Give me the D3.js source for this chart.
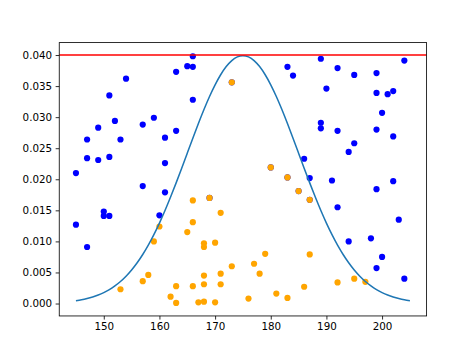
<!DOCTYPE html>
<html>
<head>
<meta charset="utf-8">
<script src="https://cdn.jsdelivr.net/npm/d3@7"></script>
<style>
html,body{margin:0;padding:0;background:#fff;}
svg{display:block;}
</style>
</head>
<body>
<script>
// Rejected samples (blue)
const blueX = [145,147,147,149,149,151,151,152,153,154,157,159,161,163,161,163,166,165,166,166,
  183,184,186,189,192,195,199,204,190,199,201,202,200,189,189,192,199,202,195,194,187,191,202,
  199,192,203,194,198,200,199,204,145,147,150,150,151,157,161,160,
  169,173,180,183,185,187];
const blueY = [0.0210,0.0264,0.0234,0.0283,0.0231,0.0335,0.0236,0.0294,0.0264,0.0362,0.0288,0.0299,0.0267,0.0278,0.0226,0.0373,0.0398,0.0382,0.0381,0.0328,
  0.0381,0.0367,0.0233,0.0394,0.0379,0.0368,0.0371,0.0391,0.0346,0.0339,0.0337,0.0342,0.0307,0.0291,0.0282,0.0278,0.0280,0.0269,0.0258,0.0244,0.0202,0.0198,0.0197,
  0.0184,0.0155,0.0135,0.0100,0.0105,0.0075,0.0057,0.0040,0.0127,0.0091,0.0148,0.0141,0.0141,0.0189,0.0179,0.0142,
  0.0170,0.0356,0.0219,0.0203,0.0181,0.0167];
// Accepted samples (orange)
const orangeX = [173,180,183,185,187,169,166,171,166,165,168,168,170,160,159,
  187,179,177,173,178,158,168,171,157,153,163,166,168,171,186,192,195,197,
  162,181,183,176,163,167,168,170];
const orangeY = [0.0356,0.0219,0.0203,0.0181,0.0167,0.0170,0.0166,0.0146,0.0131,0.0115,0.0097,0.0091,0.0098,0.0124,0.0100,
  0.0079,0.0080,0.0064,0.0060,0.0048,0.0046,0.0045,0.0048,0.0036,0.0023,0.0028,0.0028,0.0031,0.0031,0.0027,0.0034,0.0040,0.0035,
  0.0011,0.0016,0.0009,0.0008,0.0001,0.0002,0.0003,0.0002];
// Target density curve, values at x = 145..205
const curveX = d3.range(145, 206);
const curveY = [0.000443,0.000595,0.000792,0.001042,0.001358,0.001753,0.002239,0.002833,0.003547,0.004398,
  0.005399,0.006562,0.007895,0.009405,0.011092,0.012952,0.014973,0.017137,0.019419,0.021785,
  0.024197,0.026609,0.028969,0.031225,0.033322,0.035207,0.036827,0.038139,0.039104,0.039695,
  0.039894,
  0.039695,0.039104,0.038139,0.036827,0.035207,0.033322,0.031225,0.028969,0.026609,0.024197,
  0.021785,0.019419,0.017137,0.014973,0.012952,0.011092,0.009405,0.007895,0.006562,0.005399,
  0.004398,0.003547,0.002833,0.002239,0.001753,0.001358,0.001042,0.000792,0.000595,0.000443];
const envelope = 0.040;
const xTicks = [150,160,170,180,190,200];
const yTicks = [0,0.005,0.010,0.015,0.020,0.025,0.030,0.035,0.040];

const W = 474, H = 355;
const L = 59.25, R = 426.6, T = 42.6, B = 315.95;

const svg = d3.select("body").append("svg").attr("width", W).attr("height", H);
svg.append("rect").attr("width", W).attr("height", H).attr("fill", "#fff");

const x = d3.scaleLinear().domain([142, 208]).range([L, R]);
const y = d3.scaleLinear().domain([-0.002, 0.042]).range([B, T]);

const clip = svg.append("clipPath").attr("id","clip").append("rect")
  .attr("x", L).attr("y", T).attr("width", R-L).attr("height", B-T);

const plot = svg.append("g").attr("clip-path","url(#clip)");

const blue = blueX.map((v,i)=>({x:v,y:blueY[i]}));
const orange = orangeX.map((v,i)=>({x:v,y:orangeY[i]}));

plot.selectAll("circle.b").data(blue).join("circle").attr("class","b")
  .attr("cx", d=>x(d.x)).attr("cy", d=>y(d.y)).attr("r", 3.1).attr("fill","#0000ff");
plot.selectAll("circle.o").data(orange).join("circle").attr("class","o")
  .attr("cx", d=>x(d.x)).attr("cy", d=>y(d.y)).attr("r", 3.1).attr("fill","#ffa500");

const line = d3.line().x((d,i)=>x(curveX[i])).y(d=>y(d)).curve(d3.curveNatural);
plot.append("path").datum(curveY).attr("d", line).attr("fill","none")
  .attr("stroke","#1f77b4").attr("stroke-width",1.54);

plot.append("line").attr("x1", L).attr("x2", R).attr("y1", y(envelope)).attr("y2", y(envelope))
  .attr("stroke","#ff0000").attr("stroke-width",1.54);

// axes
const xAxis = d3.axisBottom(x).tickValues(xTicks).tickFormat(d3.format("d")).tickSize(3.6).tickPadding(3.6);
const yAxis = d3.axisLeft(y).tickValues(yTicks).tickFormat(d3.format(".3f")).tickSize(3.6).tickPadding(3.6);

const gx = svg.append("g").attr("transform", `translate(0,${B})`).call(xAxis);
const gy = svg.append("g").attr("transform", `translate(${L},0)`).call(yAxis);
[gx, gy].forEach(g=>{
  g.select(".domain").remove();
  g.selectAll(".tick line").attr("stroke","#000").attr("stroke-width",0.82);
  g.selectAll(".tick text").attr("fill","#000").style("font-family","'DejaVu Sans'").style("font-size","10.3px");
});

svg.append("rect").attr("x", L).attr("y", T).attr("width", R-L).attr("height", B-T)
  .attr("fill","none").attr("stroke","#000").attr("stroke-width",0.82);
</script>
</body>
</html>
